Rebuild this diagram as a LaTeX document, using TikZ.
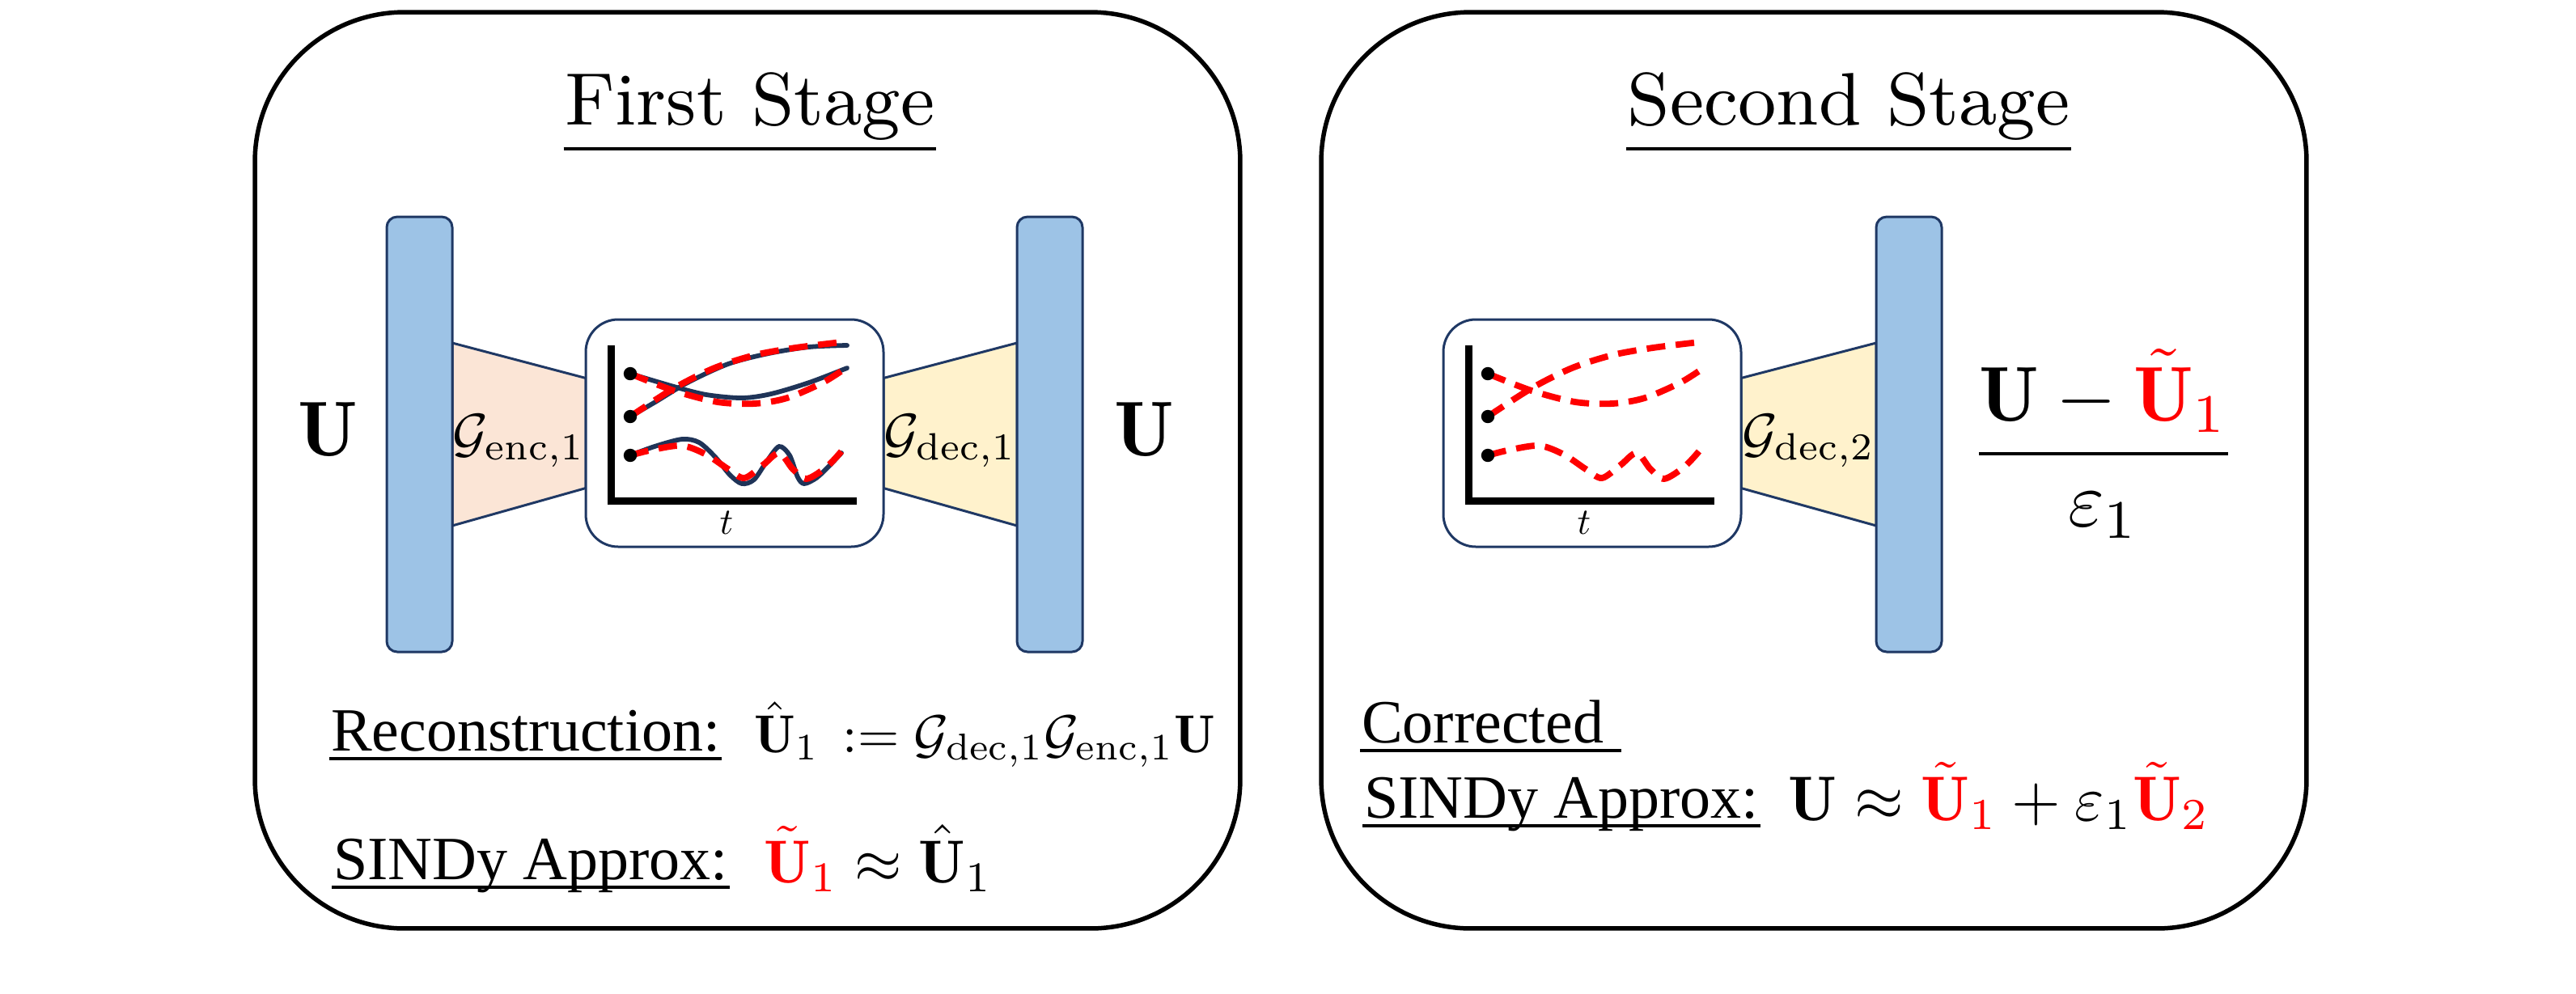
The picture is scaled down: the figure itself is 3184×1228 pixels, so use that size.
\RequirePackage{fix-cm}
\documentclass[tikz,border=0pt]{standalone}
\usepackage{amsmath}
\usepackage{graphicx}
\usepackage{fontspec}
\newfontfamily\timesfont{Liberation Serif}
\usetikzlibrary{calc,backgrounds}
\definecolor{navy}{HTML}{1F3864}
\definecolor{barblue}{HTML}{9DC3E6}
\definecolor{encfill}{HTML}{FBE5D6}
\definecolor{decfill}{HTML}{FFF2CC}
\definecolor{curveblue}{HTML}{1F3458}
\definecolor{approxred}{HTML}{FF0000}
\newcommand\mathat[2]{\scalebox{#1}{\fontsize{10}{12}\selectfont$#2$}}
\tikzset{
  stagebox/.style={draw=black, line width=0.55pt, rounded corners=18.5pt, minimum width=121.8pt, minimum height=113.3pt, inner sep=0pt, outer sep=0pt},
  barbox/.style={draw=navy, fill=barblue, line width=0.3pt, rounded corners=1.3pt, minimum width=8.1pt, minimum height=53.8pt, inner sep=0pt, outer sep=0pt},
  plotbox/.style={draw=navy, fill=white, line width=0.3pt, rounded corners=4pt, minimum width=36.8pt, minimum height=28.1pt, inner sep=0pt, outer sep=0pt},
  netpart/.style={draw=navy, line width=0.3pt, line join=round},
  truecurve/.style={curveblue, line width=0.58pt, line cap=round},
  approxcurve/.style={approxred, line width=0.78pt, dash pattern=on 2.3pt off 1.3pt},
  axisline/.style={black, line width=0.9pt},
  titletext/.style={inner sep=0pt, anchor=base, font=\fontsize{9.2}{11}\selectfont},
  labeltext/.style={inner sep=0pt, anchor=base west, font=\timesfont\fontsize{7.6}{9}\selectfont},
  mathnode/.style={inner sep=0pt, anchor=base},
  mathline/.style={inner sep=0pt, anchor=base west},
  ulinestyle/.style={line width=0.33pt},
  axesdots/.pic={
    \draw[axisline] (31,32) -- (31,229);
    \draw[axisline] (27,224.5) -- (335,224.5);
    \node[mathnode] (-t) at (174,265) {\mathat{0.46}{t}};
  },
  truecurves/.pic={
    \draw[truecurve] plot[smooth] coordinates {(55,67) (109,83) (149,93) (193,97) (229,92) (276,78) (323,60)};
    \draw[truecurve] plot[smooth] coordinates {(55,120) (86,102) (126,78) (176,55) (226,42) (276,34) (323,32)};
    \draw[truecurve] plot[smooth] coordinates {(55,168) (85,157) (119,148) (140,152) (160,170) (178,192) (193,203) (208,198) (224,175) (239,157) (252,168) (262,195) (270,203) (285,196) (300,182) (316,165)};
  },
  approxcurves/.pic={
    \draw[approxcurve] plot[smooth] coordinates {(55,67) (109,88) (163,102) (209,104) (249,97) (293,78) (323,59)};
    \draw[approxcurve] plot[smooth] coordinates {(55,120) (109,85) (159,60) (209,44) (259,35) (316,28)};
    \draw[approxcurve] plot[smooth] coordinates {(55,168) (83,161) (119,156) (149,167) (176,185) (196,196) (219,180) (239,165) (256,185) (273,197) (298,182) (316,163)};
    \fill (55,67) circle[radius=0.82pt];
    \fill (55,120) circle[radius=0.82pt];
    \fill (55,168) circle[radius=0.82pt];
  }
}
\begin{document}
\begin{tikzpicture}[x=0.1pt,y=-0.1pt]
\useasboundingbox (0,0) rectangle (3184,1228);
% stage frames
\node[stagebox] (stage1) at (924,581.5) {};
\node[stagebox] (stage2) at (2242,581.5) {};
% titles
\node[titletext] (title1) at (927,154) {First Stage};
\node[titletext] (title2) at (2285,154) {Second Stage};
\draw[ulinestyle] ([yshift=-3pt]title1.base west) -- ([yshift=-3pt]title1.base east);
\draw[ulinestyle] ([yshift=-3pt]title2.base west) -- ([yshift=-3pt]title2.base east);
% network blocks
\node[barbox] (bar1) at (518.5,537) {};
\node[plotbox] (plot1) at (908,535.5) {};
\node[barbox] (bar2) at (1297.5,537) {};
\node[plotbox] (plot2) at (1968,535.5) {};
\node[barbox] (bar3) at (2359.5,537) {};
\begin{scope}[on background layer]
\filldraw[netpart, fill=encfill] ([yshift=11.3pt]bar1.east) -- ([yshift=6.8pt]plot1.west) -- ([yshift=-6.8pt]plot1.west) -- ([yshift=-11.3pt]bar1.east) -- cycle;
\filldraw[netpart, fill=decfill] ([yshift=6.8pt]plot1.east) -- ([yshift=11.3pt]bar2.west) -- ([yshift=-11.3pt]bar2.west) -- ([yshift=-6.8pt]plot1.east) -- cycle;
\filldraw[netpart, fill=decfill] ([yshift=6.8pt]plot2.east) -- ([yshift=11.3pt]bar3.west) -- ([yshift=-11.3pt]bar3.west) -- ([yshift=-6.8pt]plot2.east) -- cycle;
\end{scope}
% plots
\pic (ax1) at (plot1.north west) {axesdots};
\pic (tc1) at (plot1.north west) {truecurves};
\pic (ac1) at (plot1.north west) {approxcurves};
\pic (ax2) at (plot2.north west) {axesdots};
\pic (ac2) at (plot2.north west) {approxcurves};
% gate labels
\node[mathnode] (genc1) at ($(bar1.east)!0.5!(plot1.west)+(0,22)$) {\mathat{0.67}{\mathcal{G}_{\mathrm{enc},1}}};
\node[mathnode] (gdec1) at ($(plot1.east)!0.5!(bar2.west)+(0,22)$) {\mathat{0.67}{\mathcal{G}_{\mathrm{dec},1}}};
\node[mathnode] (gdec2) at ($(plot2.east)!0.5!(bar3.west)+(0,22)$) {\mathat{0.67}{\mathcal{G}_{\mathrm{dec},2}}};
% U labels and residual
\node[mathnode] (uin) at (405,563) {\mathat{0.96}{\mathbf{U}}};
\node[mathnode] (uout) at (1414,563) {\mathat{0.96}{\mathbf{U}}};
\node[mathnode] (resid) at (2600,585) {\mathat{0.96}{\displaystyle\frac{\mathbf{U}-\textcolor{approxred}{\tilde{\mathbf{U}}_1}}{\varepsilon_1}}};
% first stage text
\node[labeltext] (rec) at (407,928) {Reconstruction:};
\draw[ulinestyle] ([yshift=-1pt]rec.base west) -- ([yshift=-1pt]rec.base east);
\node[mathline] (recf) at ([xshift=3.8pt,yshift=-0.2pt]rec.base east) {\mathat{0.66}{\hat{\mathbf{U}}_1\,:=\mathcal{G}_{\mathrm{dec},1}\mathcal{G}_{\mathrm{enc},1}\mathbf{U}}};
\node[labeltext] (sa1) at (410,1087) {SINDy Approx:};
\draw[ulinestyle] ([yshift=-1pt]sa1.base west) -- ([yshift=-1pt]sa1.base east);
\node[mathline] (saf1) at ([xshift=4.1pt,yshift=-0.4pt]sa1.base east) {\mathat{0.75}{\textcolor{approxred}{\tilde{\mathbf{U}}_1}\approx\hat{\mathbf{U}}_1}};
% second stage text
\node[labeltext] (corr) at (1681,918) {Corrected\hspace*{1.9pt}};
\draw[ulinestyle] ([yshift=-1pt]corr.base west) -- ([yshift=-1pt]corr.base east);
\node[labeltext] (sa2) at (1684,1011) {SINDy Approx:};
\draw[ulinestyle] ([yshift=-1pt]sa2.base west) -- ([yshift=-1pt]sa2.base east);
\node[mathline] (saf2) at ([xshift=3.3pt,yshift=-0.3pt]sa2.base east) {\mathat{0.78}{\mathbf{U}\approx\textcolor{approxred}{\tilde{\mathbf{U}}_1}+\varepsilon_1\textcolor{approxred}{\tilde{\mathbf{U}}_2}}};
\end{tikzpicture}
\end{document}
